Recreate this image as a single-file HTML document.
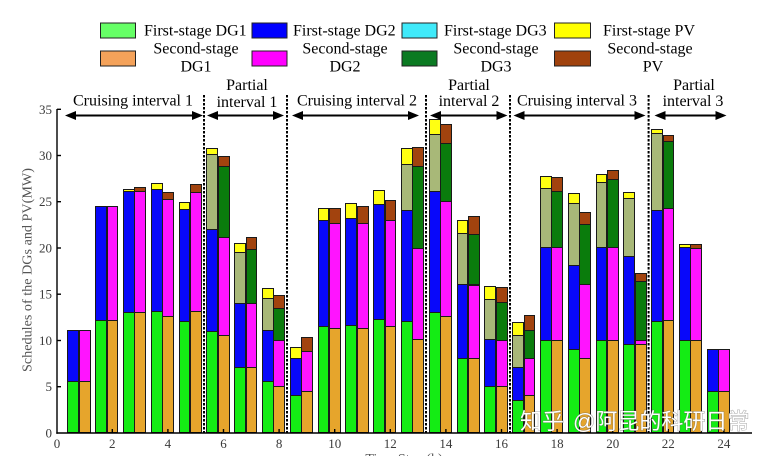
<!DOCTYPE html>
<html>
<head>
<meta charset="utf-8">
<style>
html,body{margin:0;padding:0;background:#fff;}
#c{position:relative;width:769px;height:456px;overflow:hidden;background:#fff;}
.bar{position:absolute;top:433px;width:0;height:0;}
.f{left:calc(var(--t)*27.8px + 39.5px);}
.s{left:calc(var(--t)*27.8px + 50.9px);}
.bar i{position:absolute;left:0;width:11.9px;box-sizing:border-box;border:1px solid #1a1a1a;
  bottom:calc(var(--l)*9.22px);height:calc((var(--h) - var(--l))*9.22px + 1px);}
.cg{background:#14ec14;}
.cb{background:#0808fa;}
.ck{background:#a8b878;}
.cy{background:#ffff12;}
.co{background:#e6a52c;}
.cm{background:#ff14ff;}
.cd{background:#0a7c0c;}
.cr{background:#a2430e;}
svg{position:absolute;left:0;top:0;}
</style>
</head>
<body>
<div id="c">
<!-- t1 -->
<div class="bar f" style="--t:1"><i class="cg" style="--l:0;--h:5.5"></i><i class="cb" style="--l:5.5;--h:11.05"></i></div>
<div class="bar s" style="--t:1"><i class="co" style="--l:0;--h:5.5"></i><i class="cm" style="--l:5.5;--h:11.05"></i></div>
<!-- t2 -->
<div class="bar f" style="--t:2"><i class="cg" style="--l:0;--h:12.2"></i><i class="cb" style="--l:12.2;--h:24.55"></i></div>
<div class="bar s" style="--t:2"><i class="co" style="--l:0;--h:12.2"></i><i class="cm" style="--l:12.2;--h:24.55"></i></div>
<!-- t3 -->
<div class="bar f" style="--t:3"><i class="cg" style="--l:0;--h:13"></i><i class="cb" style="--l:13;--h:26.1"></i><i class="cy" style="--l:26.1;--h:26.4"></i></div>
<div class="bar s" style="--t:3"><i class="co" style="--l:0;--h:13"></i><i class="cm" style="--l:13;--h:26.1"></i><i class="cr" style="--l:26.1;--h:26.55"></i></div>
<!-- t4 -->
<div class="bar f" style="--t:4"><i class="cg" style="--l:0;--h:13.15"></i><i class="cb" style="--l:13.15;--h:26.35"></i><i class="cy" style="--l:26.35;--h:27"></i></div>
<div class="bar s" style="--t:4"><i class="co" style="--l:0;--h:12.6"></i><i class="cm" style="--l:12.6;--h:25.25"></i><i class="cr" style="--l:25.25;--h:26"></i></div>
<!-- t5 -->
<div class="bar f" style="--t:5"><i class="cg" style="--l:0;--h:12.05"></i><i class="cb" style="--l:12.05;--h:24.2"></i><i class="cy" style="--l:24.2;--h:24.95"></i></div>
<div class="bar s" style="--t:5"><i class="co" style="--l:0;--h:13.1"></i><i class="cm" style="--l:13.1;--h:26"></i><i class="cr" style="--l:26;--h:26.9"></i></div>
<!-- t6 -->
<div class="bar f" style="--t:6"><i class="cg" style="--l:0;--h:11"></i><i class="cb" style="--l:11;--h:22.05"></i><i class="ck" style="--l:22.05;--h:30.1"></i><i class="cy" style="--l:30.1;--h:30.85"></i></div>
<div class="bar s" style="--t:6"><i class="co" style="--l:0;--h:10.5"></i><i class="cm" style="--l:10.5;--h:21.1"></i><i class="cd" style="--l:21.1;--h:28.9"></i><i class="cr" style="--l:28.9;--h:29.9"></i></div>
<!-- t7 -->
<div class="bar f" style="--t:7"><i class="cg" style="--l:0;--h:7"></i><i class="cb" style="--l:7;--h:14"></i><i class="ck" style="--l:14;--h:19.55"></i><i class="cy" style="--l:19.55;--h:20.45"></i></div>
<div class="bar s" style="--t:7"><i class="co" style="--l:0;--h:7"></i><i class="cm" style="--l:7;--h:14"></i><i class="cd" style="--l:14;--h:19.9"></i><i class="cr" style="--l:19.9;--h:21.2"></i></div>
<!-- t8 -->
<div class="bar f" style="--t:8"><i class="cg" style="--l:0;--h:5.5"></i><i class="cb" style="--l:5.5;--h:11.05"></i><i class="ck" style="--l:11.05;--h:14.5"></i><i class="cy" style="--l:14.5;--h:15.6"></i></div>
<div class="bar s" style="--t:8"><i class="co" style="--l:0;--h:4.95"></i><i class="cm" style="--l:4.95;--h:10"></i><i class="cd" style="--l:10;--h:13.5"></i><i class="cr" style="--l:13.5;--h:14.9"></i></div>
<!-- t9 -->
<div class="bar f" style="--t:9"><i class="cg" style="--l:0;--h:4"></i><i class="cb" style="--l:4;--h:8"></i><i class="cy" style="--l:8;--h:9.2"></i></div>
<div class="bar s" style="--t:9"><i class="co" style="--l:0;--h:4.4"></i><i class="cm" style="--l:4.4;--h:8.8"></i><i class="cr" style="--l:8.8;--h:10.3"></i></div>
<!-- t10 -->
<div class="bar f" style="--t:10"><i class="cg" style="--l:0;--h:11.45"></i><i class="cb" style="--l:11.45;--h:23"></i><i class="cy" style="--l:23;--h:24.35"></i></div>
<div class="bar s" style="--t:10"><i class="co" style="--l:0;--h:11.3"></i><i class="cm" style="--l:11.3;--h:22.65"></i><i class="cr" style="--l:22.65;--h:24.35"></i></div>
<!-- t11 -->
<div class="bar f" style="--t:11"><i class="cg" style="--l:0;--h:11.6"></i><i class="cb" style="--l:11.6;--h:23.25"></i><i class="cy" style="--l:23.25;--h:24.8"></i></div>
<div class="bar s" style="--t:11"><i class="co" style="--l:0;--h:11.3"></i><i class="cm" style="--l:11.3;--h:22.65"></i><i class="cr" style="--l:22.65;--h:24.55"></i></div>
<!-- t12 -->
<div class="bar f" style="--t:12"><i class="cg" style="--l:0;--h:12.3"></i><i class="cb" style="--l:12.3;--h:24.7"></i><i class="cy" style="--l:24.7;--h:26.3"></i></div>
<div class="bar s" style="--t:12"><i class="co" style="--l:0;--h:11.5"></i><i class="cm" style="--l:11.5;--h:23"></i><i class="cr" style="--l:23;--h:25.2"></i></div>
<!-- t13 -->
<div class="bar f" style="--t:13"><i class="cg" style="--l:0;--h:12"></i><i class="cb" style="--l:12;--h:24.1"></i><i class="ck" style="--l:24.1;--h:29.1"></i><i class="cy" style="--l:29.1;--h:30.8"></i></div>
<div class="bar s" style="--t:13"><i class="co" style="--l:0;--h:10.05"></i><i class="cm" style="--l:10.05;--h:20"></i><i class="cd" style="--l:20;--h:28.8"></i><i class="cr" style="--l:28.8;--h:30.9"></i></div>
<!-- t14 -->
<div class="bar f" style="--t:14"><i class="cg" style="--l:0;--h:13.05"></i><i class="cb" style="--l:13.05;--h:26.1"></i><i class="ck" style="--l:26.1;--h:32.3"></i><i class="cy" style="--l:32.3;--h:33.9"></i></div>
<div class="bar s" style="--t:14"><i class="co" style="--l:0;--h:12.55"></i><i class="cm" style="--l:12.55;--h:25.1"></i><i class="cd" style="--l:25.1;--h:31.3"></i><i class="cr" style="--l:31.3;--h:33.4"></i></div>
<!-- t15 -->
<div class="bar f" style="--t:15"><i class="cg" style="--l:0;--h:8"></i><i class="cb" style="--l:8;--h:16.05"></i><i class="ck" style="--l:16.05;--h:21.6"></i><i class="cy" style="--l:21.6;--h:23"></i></div>
<div class="bar s" style="--t:15"><i class="co" style="--l:0;--h:8"></i><i class="cm" style="--l:8;--h:16"></i><i class="cd" style="--l:16;--h:21.5"></i><i class="cr" style="--l:21.5;--h:23.4"></i></div>
<!-- t16 -->
<div class="bar f" style="--t:16"><i class="cg" style="--l:0;--h:5"></i><i class="cb" style="--l:5;--h:10.05"></i><i class="ck" style="--l:10.05;--h:14.4"></i><i class="cy" style="--l:14.4;--h:15.8"></i></div>
<div class="bar s" style="--t:16"><i class="co" style="--l:0;--h:5"></i><i class="cm" style="--l:5;--h:10"></i><i class="cd" style="--l:10;--h:14.1"></i><i class="cr" style="--l:14.1;--h:15.75"></i></div>
<!-- t17 -->
<div class="bar f" style="--t:17"><i class="cg" style="--l:0;--h:3.45"></i><i class="cb" style="--l:3.45;--h:7"></i><i class="ck" style="--l:7;--h:10.5"></i><i class="cy" style="--l:10.5;--h:11.9"></i></div>
<div class="bar s" style="--t:17"><i class="co" style="--l:0;--h:4"></i><i class="cm" style="--l:4;--h:8"></i><i class="cd" style="--l:8;--h:11.05"></i><i class="cr" style="--l:11.05;--h:12.7"></i></div>
<!-- t18 -->
<div class="bar f" style="--t:18"><i class="cg" style="--l:0;--h:10"></i><i class="cb" style="--l:10;--h:20.1"></i><i class="ck" style="--l:20.1;--h:26.5"></i><i class="cy" style="--l:26.5;--h:27.8"></i></div>
<div class="bar s" style="--t:18"><i class="co" style="--l:0;--h:10"></i><i class="cm" style="--l:10;--h:20.1"></i><i class="cd" style="--l:20.1;--h:26.1"></i><i class="cr" style="--l:26.1;--h:27.7"></i></div>
<!-- t19 -->
<div class="bar f" style="--t:19"><i class="cg" style="--l:0;--h:9"></i><i class="cb" style="--l:9;--h:18.1"></i><i class="ck" style="--l:18.1;--h:24.8"></i><i class="cy" style="--l:24.8;--h:25.9"></i></div>
<div class="bar s" style="--t:19"><i class="co" style="--l:0;--h:8"></i><i class="cm" style="--l:8;--h:16.05"></i><i class="cd" style="--l:16.05;--h:22.6"></i><i class="cr" style="--l:22.6;--h:23.9"></i></div>
<!-- t20 -->
<div class="bar f" style="--t:20"><i class="cg" style="--l:0;--h:10"></i><i class="cb" style="--l:10;--h:20.1"></i><i class="ck" style="--l:20.1;--h:27.15"></i><i class="cy" style="--l:27.15;--h:28"></i></div>
<div class="bar s" style="--t:20"><i class="co" style="--l:0;--h:10"></i><i class="cm" style="--l:10;--h:20.1"></i><i class="cd" style="--l:20.1;--h:27.4"></i><i class="cr" style="--l:27.4;--h:28.45"></i></div>
<!-- t21 -->
<div class="bar f" style="--t:21"><i class="cg" style="--l:0;--h:9.5"></i><i class="cb" style="--l:9.5;--h:19.1"></i><i class="ck" style="--l:19.1;--h:25.4"></i><i class="cy" style="--l:25.4;--h:26.05"></i></div>
<div class="bar s" style="--t:21"><i class="co" style="--l:0;--h:9.5"></i><i class="cm" style="--l:9.5;--h:10"></i><i class="cd" style="--l:10;--h:16.4"></i><i class="cr" style="--l:16.4;--h:17.25"></i></div>
<!-- t22 -->
<div class="bar f" style="--t:22"><i class="cg" style="--l:0;--h:12"></i><i class="cb" style="--l:12;--h:24.1"></i><i class="ck" style="--l:24.1;--h:32.4"></i><i class="cy" style="--l:32.4;--h:32.9"></i></div>
<div class="bar s" style="--t:22"><i class="co" style="--l:0;--h:12.1"></i><i class="cm" style="--l:12.1;--h:24.3"></i><i class="cd" style="--l:24.3;--h:31.6"></i><i class="cr" style="--l:31.6;--h:32.2"></i></div>
<!-- t23 -->
<div class="bar f" style="--t:23"><i class="cg" style="--l:0;--h:10"></i><i class="cb" style="--l:10;--h:20.1"></i><i class="cy" style="--l:20.1;--h:20.35"></i></div>
<div class="bar s" style="--t:23"><i class="co" style="--l:0;--h:10"></i><i class="cm" style="--l:10;--h:20"></i><i class="cr" style="--l:20;--h:20.4"></i></div>
<!-- t24 -->
<div class="bar f" style="--t:24"><i class="cg" style="--l:0;--h:4.45"></i><i class="cb" style="--l:4.45;--h:9.05"></i></div>
<div class="bar s" style="--t:24"><i class="co" style="--l:0;--h:4.45"></i><i class="cm" style="--l:4.45;--h:9"></i></div>

<svg width="769" height="456" viewBox="0 0 769 456" xmlns="http://www.w3.org/2000/svg">
  <!-- legend swatches -->
  <g stroke="#222" stroke-width="1">
    <rect x="100.5" y="23" width="35" height="15" fill="#66ff66"/>
    <rect x="252" y="23" width="35" height="15" fill="#0000ff"/>
    <rect x="402" y="23" width="35" height="15" fill="#40eafa"/>
    <rect x="554.5" y="23" width="36" height="15" fill="#ffff00"/>
    <rect x="100.5" y="51" width="35" height="15" fill="#f4a25a"/>
    <rect x="252" y="51" width="35" height="15" fill="#ff00ff"/>
    <rect x="402" y="51" width="35" height="15" fill="#0b7a22"/>
    <rect x="554.5" y="51" width="36" height="15" fill="#a0420d"/>
  </g>
  <g font-family="'Liberation Serif', 'Times New Roman', serif" font-size="16" fill="#000">
    <text x="144" y="35.5">First-stage DG1</text>
    <text x="293" y="35.5">First-stage DG2</text>
    <text x="444" y="35.5">First-stage DG3</text>
    <text x="603" y="35.5">First-stage PV</text>
    <g text-anchor="middle">
      <text x="196" y="53.5">Second-stage</text>
      <text x="196" y="71.5">DG1</text>
      <text x="345" y="53.5">Second-stage</text>
      <text x="345" y="71.5">DG2</text>
      <text x="496" y="53.5">Second-stage</text>
      <text x="496" y="71.5">DG3</text>
      <text x="650" y="53.5">Second-stage</text>
      <text x="653" y="71.5">PV</text>

      <text x="133" y="105.5">Cruising interval 1</text>
      <text x="247" y="90">Partial</text>
      <text x="247" y="107">interval 1</text>
      <text x="357" y="105.5">Cruising interval 2</text>
      <text x="469" y="90">Partial</text>
      <text x="469" y="106">interval 2</text>
      <text x="577" y="105.5">Cruising interval 3</text>
      <text x="694" y="90">Partial</text>
      <text x="693" y="106">interval 3</text>
    </g>
  </g>

  <!-- arrows -->
  <g stroke="#000" stroke-width="2">
    <line x1="70" y1="115.5" x2="198" y2="115.5"/>
    <line x1="212" y1="115.5" x2="279" y2="115.5"/>
    <line x1="297" y1="115.5" x2="414" y2="115.5"/>
    <line x1="435" y1="115.5" x2="502.5" y2="115.5"/>
    <line x1="518.5" y1="115.5" x2="640.5" y2="115.5"/>
    <line x1="659.5" y1="115.5" x2="721.5" y2="115.5"/>
  </g>
  <g fill="#000">
    <polygon points="65,115.5 76,111 76,120"/>
    <polygon points="203,115.5 192,111 192,120"/>
    <polygon points="207,115.5 218,111 218,120"/>
    <polygon points="284,115.5 273,111 273,120"/>
    <polygon points="292,115.5 303,111 303,120"/>
    <polygon points="419,115.5 408,111 408,120"/>
    <polygon points="430,115.5 441,111 441,120"/>
    <polygon points="507.5,115.5 496.5,111 496.5,120"/>
    <polygon points="513.5,115.5 524.5,111 524.5,120"/>
    <polygon points="645.5,115.5 634.5,111 634.5,120"/>
    <polygon points="654.5,115.5 665.5,111 665.5,120"/>
    <polygon points="726.5,115.5 715.5,111 715.5,120"/>
  </g>

  <!-- dotted separators -->
  <g stroke="#000" stroke-width="2" stroke-dasharray="2.5 1.5">
    <line x1="204" y1="95" x2="204" y2="433"/>
    <line x1="287" y1="95" x2="287" y2="433"/>
    <line x1="426" y1="95" x2="426" y2="433"/>
    <line x1="510" y1="95" x2="510" y2="433"/>
    <line x1="648.6" y1="95" x2="648.6" y2="433"/>
  </g>

  <!-- axes -->
  <g stroke="#000" stroke-width="1.4" fill="none">
    <line x1="57" y1="109" x2="57" y2="433.7"/>
    <line x1="56.3" y1="433" x2="752" y2="433"/>
    <line x1="57" y1="109.3" x2="61" y2="109.3"/>
    <line x1="57" y1="155.5" x2="61" y2="155.5"/>
    <line x1="57" y1="201.7" x2="61" y2="201.7"/>
    <line x1="57" y1="248" x2="61" y2="248"/>
    <line x1="57" y1="294.2" x2="61" y2="294.2"/>
    <line x1="57" y1="340.5" x2="61" y2="340.5"/>
    <line x1="57" y1="386.7" x2="61" y2="386.7"/>
    <line x1="112.3" y1="433" x2="112.3" y2="429"/>
    <line x1="167.9" y1="433" x2="167.9" y2="429"/>
    <line x1="223.5" y1="433" x2="223.5" y2="429"/>
    <line x1="279.1" y1="433" x2="279.1" y2="429"/>
    <line x1="334.7" y1="433" x2="334.7" y2="429"/>
    <line x1="390.3" y1="433" x2="390.3" y2="429"/>
    <line x1="445.9" y1="433" x2="445.9" y2="429"/>
    <line x1="501.5" y1="433" x2="501.5" y2="429"/>
    <line x1="557.1" y1="433" x2="557.1" y2="429"/>
    <line x1="612.7" y1="433" x2="612.7" y2="429"/>
    <line x1="668.3" y1="433" x2="668.3" y2="429"/>
    <line x1="723.9" y1="433" x2="723.9" y2="429"/>
  </g>

  <!-- tick labels -->
  <g font-family="'Liberation Serif', 'Times New Roman', serif" font-size="13" fill="#3a3a3a">
    <g text-anchor="end">
      <text x="52" y="113.8">35</text>
      <text x="52" y="160">30</text>
      <text x="52" y="206.2">25</text>
      <text x="52" y="252.5">20</text>
      <text x="52" y="298.7">15</text>
      <text x="52" y="345">10</text>
      <text x="52" y="391.2">5</text>
      <text x="52" y="437.5">0</text>
    </g>
    <g text-anchor="middle">
      <text x="57" y="448">0</text>
      <text x="112.3" y="448">2</text>
      <text x="167.9" y="448">4</text>
      <text x="223.5" y="448">6</text>
      <text x="279.1" y="448">8</text>
      <text x="334.7" y="448">10</text>
      <text x="390.3" y="448">12</text>
      <text x="445.9" y="448">14</text>
      <text x="501.5" y="448">16</text>
      <text x="557.1" y="448">18</text>
      <text x="612.7" y="448">20</text>
      <text x="668.3" y="448">22</text>
      <text x="723.9" y="448">24</text>
    </g>
  </g>

  <!-- axis titles -->
  <text transform="translate(31.5,270) rotate(-90)" text-anchor="middle" font-family="'Liberation Serif', 'Times New Roman', serif" font-size="14" fill="#555" textLength="204" lengthAdjust="spacingAndGlyphs">Schedules of the DGs and PV(MW)</text>
  <text x="404" y="463" text-anchor="middle" font-family="'Liberation Serif', 'Times New Roman', serif" font-size="14" fill="#555">Time Step (h)</text>

  <!-- watermark -->
  <g font-family="'Liberation Sans', 'Noto Sans CJK SC', sans-serif" font-size="22" fill="#ffffff" stroke="rgba(90,90,90,0.55)" stroke-width="1" paint-order="stroke">
    <text x="520" y="429">知乎</text>
    <text x="573" y="429">@阿昆的科研日常</text>
  </g>
</svg>
</div>
</body>
</html>
